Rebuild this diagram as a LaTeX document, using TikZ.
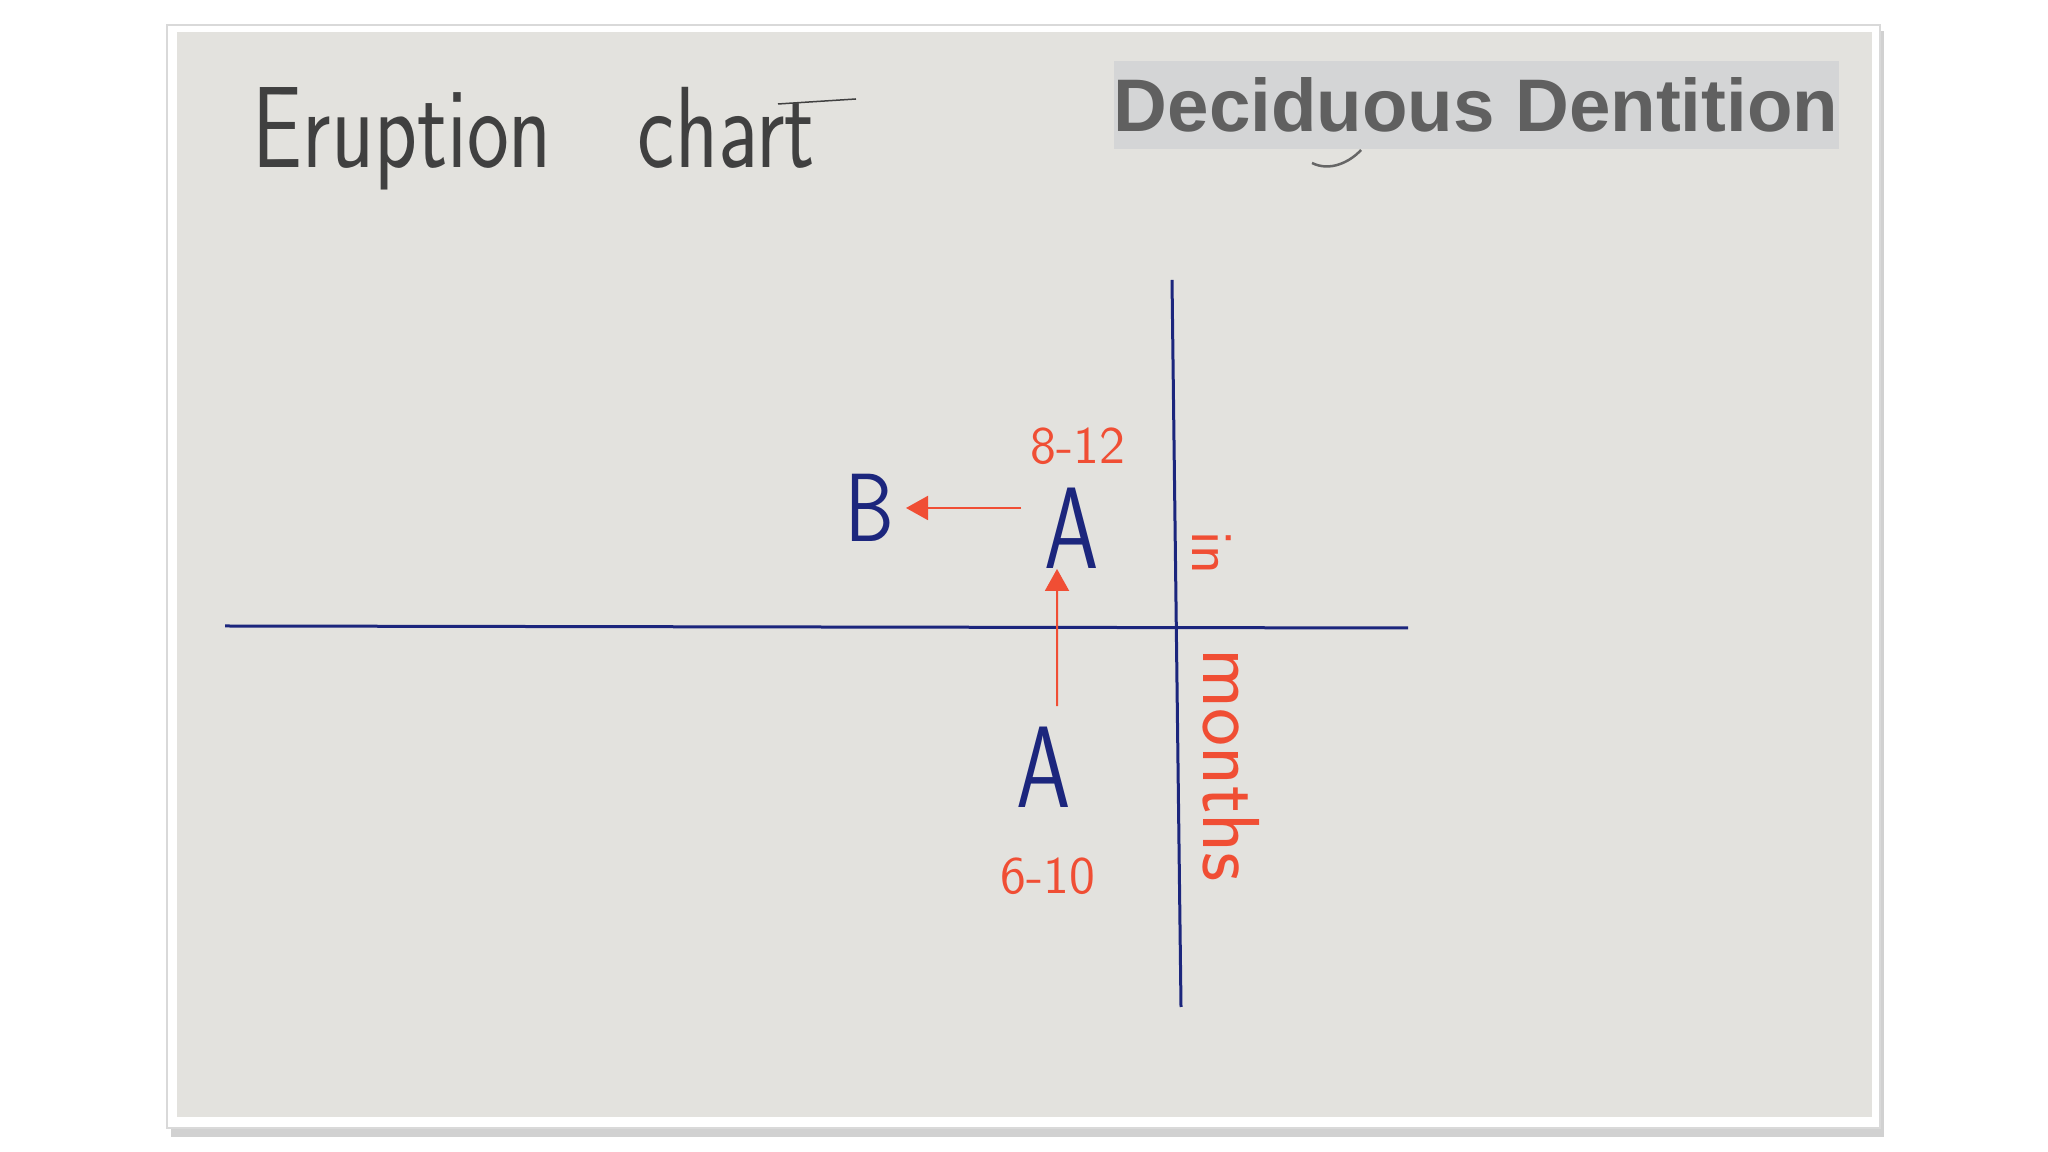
\documentclass[tikz,border=0pt]{standalone}
\usepackage{fontspec}
\newfontfamily\titlefont{Liberation Sans}
\usetikzlibrary{arrows.meta}

\definecolor{paper}{RGB}{227,226,222}
\definecolor{inkblue}{RGB}{28,38,125}
\definecolor{inkred}{RGB}{240,78,52}
\definecolor{titlegray}{RGB}{96,96,96}
\definecolor{titlebox}{RGB}{212,213,214}

\begin{document}
\begin{tikzpicture}[x=0.1mm, y=-0.1mm,
  letter/.style={inkblue, inner sep=0},
  redlabel/.style={inkred, inner sep=0, font=\sffamily\fontsize{15}{15}\selectfont},
  sidelabel/.style={inkred, inner sep=0, rotate=-90, anchor=base west},
  redarrow/.style={inkred, line width=0.2mm, -{Triangle[length=2.2mm,width=2.4mm]}},
  axis/.style={inkblue, line width=0.3mm}]
\useasboundingbox (0,0) rectangle (2048,1152);
\fill[white] (0,0) rectangle (2048,1152);
% photo frame
\fill[black!18] (171,31) rectangle (1884,1137);
\filldraw[fill=white, draw=black!15] (167,25) rectangle (1880,1128);
\fill[paper] (177,32) rectangle (1872,1117);
% headings
\node[anchor=base west, inner sep=0, font=\sffamily\fontsize{25.3}{25.3}\selectfont, black!75] (chart) at (252,168)
  {\scalebox{1}[1.3]{Eruption\hspace{8.6mm}chart}};
\draw[black!75, line width=0.15mm] (778,104) -- (856,99);
\node[fill=titlebox, text=titlegray, inner sep=0, minimum width=72.5mm, minimum height=8.8mm,
  font=\titlefont\bfseries\fontsize{21.2}{21.2}\selectfont] (deciduous) at (1476,105) {Deciduous Dentition};
\draw[black!60, line width=0.25mm] (1312,163) .. controls (1330,172) and (1350,162) .. (1361,150);
% axes
\draw[axis] (225,626) -- (1408,628);
\draw[axis] (1172,280) -- (1181,1007);
% teeth
\node[letter, font=\sffamily\fontsize{33}{33}\selectfont] (aUp) at (1072,528) {\scalebox{0.75}[1]{A}};
\node[letter, font=\sffamily\fontsize{33}{33}\selectfont] (aLow) at (1044,767) {\scalebox{0.75}[1]{A}};
\node[letter, font=\sffamily\fontsize{27.6}{27.6}\selectfont] (b) at (870,508) {\scalebox{0.8}[1]{B}};
\node[redlabel] (upAge) at (1078,446) {8-12};
\node[redlabel] (lowAge) at (1048,876) {6-10};
\node[sidelabel, font=\sffamily\fontsize{17}{17}\selectfont] (inUnit) at (1192,531) {in};
\node[sidelabel, font=\sffamily\fontsize{23}{23}\selectfont] (months) at (1203,648) {months};
% arrows
\draw[redarrow, shorten <=2.3mm, shorten >=1.1mm] (aUp.west |- b.center) -- (b.east);
\draw[redarrow, shorten <=2mm] ([xshift=1.3mm]aLow.north) -- ([xshift=-1.5mm]aUp.south);
\end{tikzpicture}
\end{document}
